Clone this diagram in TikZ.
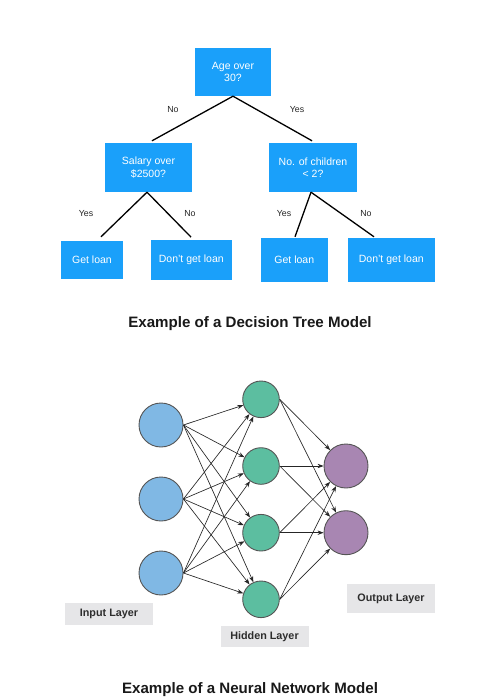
\documentclass[tikz,border=0pt]{standalone}
\usepackage{fontspec}
\setmainfont{Liberation Sans}
\usetikzlibrary{arrows.meta}
\definecolor{treeblue}{RGB}{26,160,250}
\definecolor{inblue}{RGB}{128,184,228}
\definecolor{hidgreen}{RGB}{92,190,160}
\definecolor{outpurple}{RGB}{168,134,178}
\definecolor{circline}{RGB}{85,85,85}
\definecolor{labgray}{RGB}{230,230,232}
\definecolor{labtext}{RGB}{45,45,45}
\tikzset{
  tbox/.style={rectangle, fill=treeblue, text=white, align=center,
    font=\fontsize{10.5}{12.5}\selectfont, inner sep=0pt},
  tedge/.style={line width=1.3pt, black},
  tlab/.style={font=\fontsize{8.8}{10}\selectfont, text=black!85},
  title/.style={font=\bfseries\fontsize{15.1}{17}\selectfont, text=black!90},
  inode/.style={circle, fill=inblue, draw=circline, line width=0.9pt, minimum size=44pt, inner sep=0pt},
  hnode/.style={circle, fill=hidgreen, draw=circline, line width=0.9pt, minimum size=36.6pt, inner sep=0pt},
  onode/.style={circle, fill=outpurple, draw=circline, line width=0.9pt, minimum size=44pt, inner sep=0pt},
  nedge/.style={line width=0.65pt, black!85, -{Stealth[length=6pt,width=4.4pt]}},
  layerlab/.style={rectangle, fill=labgray, text=labtext, font=\bfseries\fontsize{10.8}{12}\selectfont, inner sep=0pt}
}
\begin{document}
\begin{tikzpicture}[x=1pt,y=-1pt]
\useasboundingbox[fill=white] (0,0) rectangle (500,700);
% Decision tree
\node[tbox, minimum width=76pt, minimum height=48pt] (root) at (233,72) {Age over\\30?};
\node[tbox, minimum width=87pt, minimum height=49pt] (sal) at (148.5,167.5) {Salary over\\\$2500?};
\node[tbox, minimum width=88pt, minimum height=49pt] (chi) at (313,167.5) {No. of children\\< 2?};
\node[tbox, minimum width=62pt, minimum height=37pt] (l1) at (92,260) {Get loan};
\node[tbox, minimum width=81pt, minimum height=40pt] (l2) at (191.3,260) {Don't get loan};
\node[tbox, minimum width=67pt, minimum height=44pt] (l3) at (294.3,260) {Get loan};
\node[tbox, minimum width=87pt, minimum height=44pt] (l4) at (391.3,260) {Don't get loan};
\draw[tedge] (root.south) -- ([xshift=3.5pt,yshift=2pt]sal.north);
\draw[tedge] (root.south) -- ([xshift=-1pt,yshift=2pt]chi.north);
\draw[tedge] ([xshift=-1.5pt]sal.south) -- ([xshift=9pt,yshift=4.5pt]l1.north);
\draw[tedge] ([xshift=-1.5pt]sal.south) -- ([xshift=-0.3pt,yshift=2.7pt]l2.north);
\draw[tedge] ([xshift=-2pt]chi.south) -- ([xshift=0.7pt,yshift=1pt]l3.north);
\draw[tedge] ([xshift=-2pt]chi.south) -- ([xshift=-17.3pt,yshift=1pt]l4.north);
\node[tlab] (tn1) at (173,110) {No};
\node[tlab] (ty1) at (297,110) {Yes};
\node[tlab] (ty2) at (86,214) {Yes};
\node[tlab] (tn2) at (190,214) {No};
\node[tlab] (ty3) at (284,214) {Yes};
\node[tlab] (tn3) at (366,214) {No};
\node[title] (t1) at (250,324) {Example of a Decision Tree Model};
% Neural network
\node[inode] (i1) at (161,425) {};
\node[inode] (i2) at (161,499) {};
\node[inode] (i3) at (161,573) {};
\node[hnode] (h1) at (261,399.3) {};
\node[hnode] (h2) at (261,466) {};
\node[hnode] (h3) at (261,532.7) {};
\node[hnode] (h4) at (261,599.3) {};
\node[onode] (o1) at (346,466) {};
\node[onode] (o2) at (346,532.7) {};
\foreach \i in {1,2,3}{
  \foreach \h in {1,2,3,4}{
    \draw[nedge] (i\i.east) -- (h\h);
  }
}
\foreach \h in {1,2,3,4}{
  \foreach \o in {1,2}{
    \draw[nedge] (h\h.east) -- (o\o);
  }
}
\node[layerlab, minimum width=88pt, minimum height=22pt] (li) at (109,614) {Input Layer};
\node[layerlab, minimum width=88pt, minimum height=21pt] (lh) at (264.5,636.5) {Hidden Layer};
\node[layerlab, minimum width=88pt, minimum height=29pt] (lo) at (391,598.5) {Output Layer};
\node[title] (t2) at (250,690) {Example of a Neural Network Model};
\end{tikzpicture}
\end{document}
